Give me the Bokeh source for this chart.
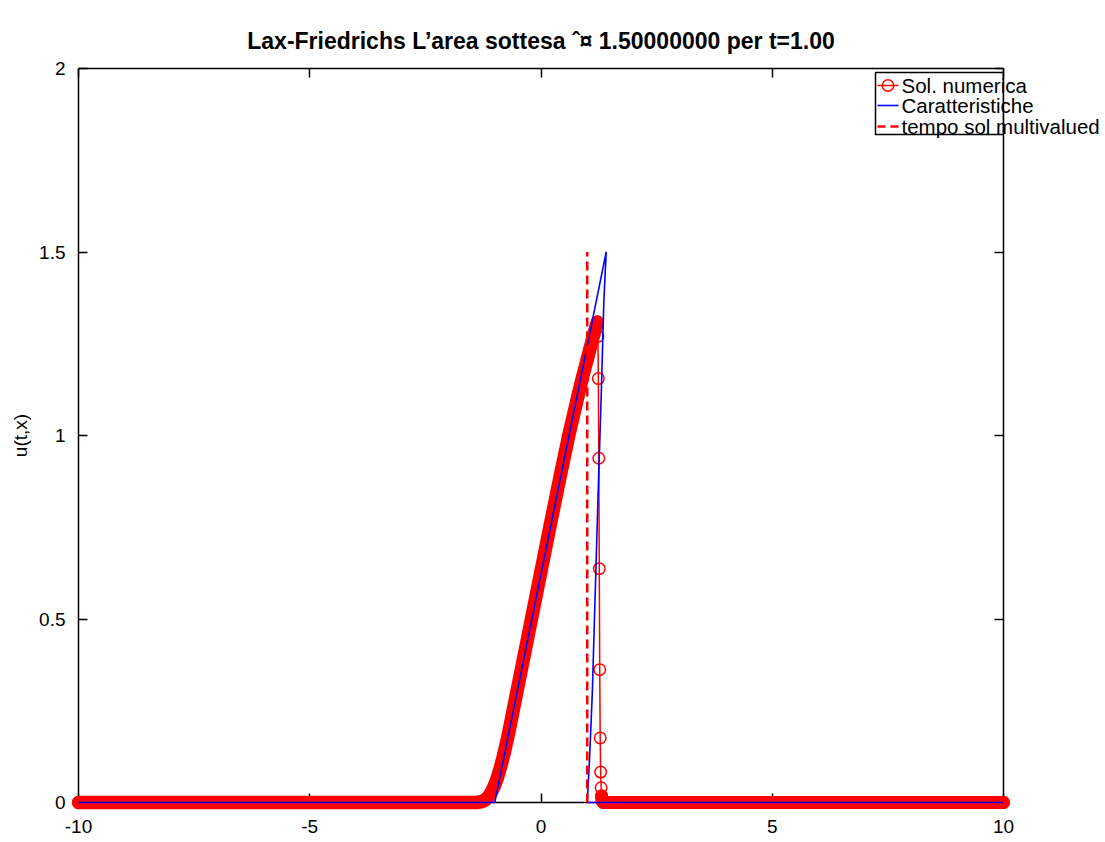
import numpy as np
from bokeh.plotting import figure
from bokeh.models import Range1d, LinearAxis, FixedTicker
from bokeh.core.properties import value
from bokeh.embed import file_html
from bokeh.resources import INLINE

# ---------------- data ----------------
num_x = [-10.00, -1.40, -1.30, -1.25, -1.20, -1.15, -1.10, -1.05, -1.00, -0.95,
         -0.90, -0.85, -0.80, -0.70, -0.60, -0.40, -0.20, 0.00, 0.20, 0.40,
         0.60, 0.80, 0.90, 1.00, 1.05, 1.10, 1.15, 1.20, 1.22, 1.23,
         1.24, 1.25, 1.26, 1.27, 1.28, 1.29, 1.30, 1.31, 1.32, 1.33,
         1.35, 10.00]
num_u = [0.000, 0.000, 0.002, 0.004, 0.008, 0.014, 0.023, 0.034, 0.048, 0.065,
         0.085, 0.108, 0.133, 0.189, 0.252, 0.378, 0.504, 0.630, 0.756, 0.880,
         1.000, 1.108, 1.160, 1.208, 1.232, 1.256, 1.280, 1.300, 1.309, 1.270,
         1.155, 0.938, 0.637, 0.362, 0.176, 0.083, 0.040, 0.018, 0.008, 0.003,
         0.000, 0.000]

char_x = [-10.0, -1.0, 1.41, 1.36, 1.30, 1.23, 1.16, 1.11, 1.05, 1.0, 10.0]
char_u = [0.0, 0.0, 1.50, 1.37, 1.10, 0.82, 0.52, 0.30, 0.12, 0.0, 0.0]

tempo_x = [1.0, 1.0]
tempo_u = [0.0, 1.5]

x_ticks = [-10, -5, 0, 5, 10]
x_tick_labels = ["-10", "-5", "0", "5", "10"]
y_ticks = [0, 0.5, 1, 1.5, 2]
y_tick_labels = ["0", "0.5", "1", "1.5", "2"]

title_text = "Lax-Friedrichs L\u2019area sottesa \u02c6\u00a4 1.50000000 per t=1.00"
legend_labels = ["Sol. numerica", "Caratteristiche", "tempo sol multivalued"]
y_label = "u(t,x)"

# ---------------- styling ----------------
FONT = "Liberation Sans"
RED = "#ff0000"
BLUE = "#0000ff"

X0, X1 = -10.0, 10.0
Y0, Y1 = 0.0, 2.0
FW, FH = 925, 734          # frame size in px
PX = FW / (X1 - X0)        # px per x unit
PY = FH / (Y1 - Y0)        # px per y unit

p = figure(frame_width=FW, frame_height=FH,
           x_range=Range1d(X0, X1), y_range=Range1d(Y0, Y1),
           output_backend="svg", toolbar_location=None,
           min_border_left=78, min_border_right=102,
           min_border_top=68, min_border_bottom=40,
           title=title_text)
p.grid.visible = False
p.outline_line_color = None
p.background_fill_color = "white"
p.border_fill_color = "white"

p.title.align = "center"
p.title.text_font = FONT
p.title.text_font_size = "23px"
p.title.text_font_style = "bold"
p.title.text_color = "black"
p.title.standoff = 30


def style_axis(ax, ticks, labels):
    ax.ticker = FixedTicker(ticks=ticks)
    ax.major_tick_in = 9
    ax.major_tick_out = 0
    ax.minor_tick_in = 0
    ax.minor_tick_out = 0
    ax.axis_line_color = "black"
    ax.axis_line_width = 1.5
    ax.major_tick_line_color = "black"
    ax.major_tick_line_width = 1.5
    ax.major_label_text_font = FONT
    ax.major_label_text_color = "black"
    if labels is not None:
        ax.major_label_text_font_size = "19px"
        ax.major_label_overrides = {t: s for t, s in zip(ticks, labels)}
    else:
        ax.major_label_text_font_size = "0px"
        ax.major_label_overrides = {t: "" for t in ticks}
        ax.major_label_standoff = 0


style_axis(p.xaxis[0], x_ticks, x_tick_labels)
p.xaxis[0].major_label_standoff = 17
style_axis(p.yaxis[0], y_ticks, y_tick_labels)
p.yaxis[0].major_label_standoff = 13
p.yaxis[0].axis_label = y_label
p.yaxis[0].axis_label_text_font = FONT
p.yaxis[0].axis_label_text_font_size = "19px"
p.yaxis[0].axis_label_text_font_style = "normal"
p.yaxis[0].axis_label_text_color = "black"
p.yaxis[0].axis_label_standoff = 5

top_ax = LinearAxis()
style_axis(top_ax, x_ticks, None)
p.add_layout(top_ax, "above")
right_ax = LinearAxis()
style_axis(right_ax, y_ticks, None)
p.add_layout(right_ax, "right")

# ---------------- numerical solution ----------------
peak = int(np.argmax(num_u))
tail = next(i for i in range(peak + 1, len(num_u)) if num_u[i] < 0.03)

# dense markers form a solid band where the grid is fine
p.line(num_x[:peak + 1], num_u[:peak + 1], line_width=13.5, color=RED,
       line_cap="round", line_join="round", level="overlay")
p.line(num_x[tail:], num_u[tail:], line_width=13, color=RED,
       line_cap="round", line_join="round", level="overlay")
p.line(num_x, num_u, line_width=1.5, color=RED, level="overlay")
p.scatter(num_x, num_u, marker="circle", size=11.5, line_color=RED,
          fill_color=None, line_width=1.5, level="overlay")

# ---------------- characteristics ----------------
p.line(char_x, char_u, line_width=1.6, color=BLUE, level="overlay")

# ---------------- multivalued time ----------------
p.line(tempo_x, tempo_u, line_width=2.5, color=RED, line_dash="9 5", level="overlay")

# ---------------- legend (drawn like the original, text overflowing the box) ----------------
def dx(px):   # frame px offset from left -> data x
    return X0 + px / PX


def dy(py):   # frame px offset from top -> data y
    return Y1 - py / PY


box_l, box_r, box_t, box_b = 797, FW, 4, 66
p.quad(left=[dx(box_l)], right=[dx(box_r)], top=[dy(box_t)], bottom=[dy(box_b)],
       fill_color="white", line_color="black", line_width=1.5)

rows = [17, 37, 58]
s0, s1, tx = 799, 820, 823
# Sol. numerica
p.line([dx(s0), dx(s1)], [dy(rows[0])] * 2, color=RED, line_width=1.5, level="overlay")
p.scatter([dx((s0 + s1) / 2)], [dy(rows[0])], marker="circle", size=11.5,
          line_color=RED, fill_color=None, line_width=1.5, level="overlay")
# Caratteristiche
p.line([dx(s0), dx(s1)], [dy(rows[1])] * 2, color=BLUE, line_width=1.6, level="overlay")
# tempo sol multivalued
p.line([dx(s0), dx(s1)], [dy(rows[2])] * 2, color=RED, line_width=2.5,
       line_dash="8 5", level="overlay")

p.text(x=[dx(tx)] * 3, y=[dy(r) for r in rows], text=legend_labels,
       text_font=value(FONT), text_font_size=value("20.5px"), text_color="black",
       text_baseline="middle", text_align="left", level="overlay")

open("out.html", "w").write(file_html(p, INLINE))
